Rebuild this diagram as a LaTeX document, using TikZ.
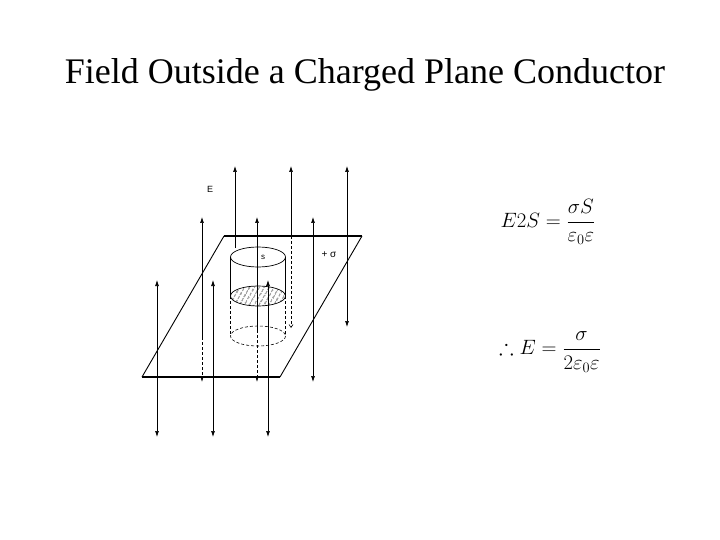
\documentclass[tikz,border=0pt]{standalone}
\usepackage{amsmath,amssymb}
\usepackage{fontspec}
\setmainfont{Liberation Serif}
\newfontfamily\sansf{Liberation Sans}
\usetikzlibrary{arrows.meta,patterns.meta}
\begin{document}
\begin{tikzpicture}[x=1pt,y=-1pt,
  fl/.style={line width=0.7pt},
  tip/.style={-{Latex[length=6pt,width=4pt]}},
  dtip/.style={{Latex[length=6pt,width=4pt]}-{Latex[length=6pt,width=4pt]}},
  dsh/.style={dashed,dash pattern=on 3pt off 2pt,line width=0.6pt}]
\useasboundingbox (0,0) rectangle (720,540);
\node (title) at (365,75) {\fontsize{36}{42}\selectfont Field Outside a Charged Plane Conductor};
% plane
\coordinate (p1) at (224,236); \coordinate (p2) at (362,236);
\coordinate (p3) at (280,377); \coordinate (p4) at (142,377);
\draw[line width=1.2pt] (p1)--(p2);
\draw[line width=1.2pt] (p4)--(p3);
\draw[line width=0.9pt] (p1)--(p4);
\draw[line width=0.9pt] (p2)--(p3);
% cylinder
\draw[fl] (258,257) ellipse [x radius=27.5,y radius=10];
\draw[fl,pattern={Lines[angle=60,distance=4pt,line width=0.6pt]}] (258,296) ellipse [x radius=27.5,y radius=10];
\draw[fl] (230.5,257)--(230.5,296); \draw[fl] (285.5,257)--(285.5,296);
\draw[dsh] (230.5,296)--(230.5,336); \draw[dsh] (285.5,296)--(285.5,336);
\draw[dsh] (258,336) ellipse [x radius=27.5,y radius=10];
% field lines
\coordinate (a1t) at (235,166); \coordinate (a1b) at (235,248);
\draw[fl,tip] (a1b)--(a1t);
\coordinate (a2t) at (291,166); \coordinate (a2m) at (291,236); \coordinate (a2b) at (291,328);
\draw[fl,tip] (a2m)--(a2t);
\draw[dsh,-{Straight Barb[length=3pt,width=4pt]}] (a2m)--(a2b);
\coordinate (a3t) at (347,166); \coordinate (a3b) at (347,327);
\draw[fl,dtip] (a3b)--(a3t);
\coordinate (a4t) at (202,217); \coordinate (a4m) at (202,337); \coordinate (a4b) at (202,382);
\draw[fl,tip] (a4m)--(a4t);
\draw[dsh,tip] (a4m)--(a4b);
\coordinate (a5t) at (257,217); \coordinate (a5m) at (257,330); \coordinate (a5b) at (257,382);
\draw[fl,tip] (a5m)--(a5t);
\draw[dsh,tip] (a5m)--(a5b);
\coordinate (a6t) at (313,217); \coordinate (a6b) at (313,382);
\draw[fl,dtip] (a6b)--(a6t);
\coordinate (a7t) at (157,280); \coordinate (a7b) at (157,437);
\draw[fl,dtip] (a7b)--(a7t);
\coordinate (a8t) at (213,280); \coordinate (a8b) at (213,437);
\draw[fl,dtip] (a8b)--(a8t);
\coordinate (a9t) at (268,280); \coordinate (a9b) at (268,437);
\draw[fl,dtip] (a9b)--(a9t);
% labels
\node (lE) at (210,189) {\sansf\fontsize{9}{10}\selectfont E};
\node (ls) at (263,257) {\sansf\fontsize{8}{9}\selectfont s};
\node (lsig) at (329,255) {\sansf\fontsize{10}{11}\selectfont + σ};
% equations
\node (eq1) at (548,222) {\fontsize{22}{26}\selectfont $E2S=\dfrac{\sigma S}{\varepsilon_0\varepsilon}$};
\node (eq2) at (550,352) {\fontsize{22}{26}\selectfont $\therefore E=\dfrac{\sigma}{2\varepsilon_0\varepsilon}$};
\end{tikzpicture}
\end{document}
